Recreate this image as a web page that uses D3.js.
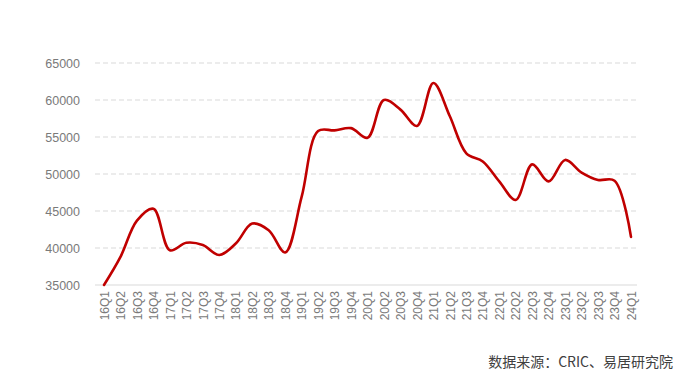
<!DOCTYPE html>
<html><head><meta charset="utf-8">
<script src="https://cdn.jsdelivr.net/npm/d3@7"></script>
<style>body{margin:0;background:#fff}svg{display:block}</style>
</head><body><div id="c"></div>
<script>
const categories = ["16Q1","16Q2","16Q3","16Q4","17Q1","17Q2","17Q3","17Q4","18Q1","18Q2","18Q3","18Q4","19Q1","19Q2","19Q3","19Q4","20Q1","20Q2","20Q3","20Q4","21Q1","21Q2","21Q3","21Q4","22Q1","22Q2","22Q3","22Q4","23Q1","23Q2","23Q3","23Q4","24Q1"];
const values = [35000,38800,43700,45300,39700,40700,40400,39050,40600,43300,42400,39400,46900,55800,55900,56200,54900,60000,58700,56500,62300,57800,52800,51700,49000,46500,51300,49000,51900,50200,49200,49100,41500];
const yTicks = [35000,40000,45000,50000,55000,60000,65000];
const source = "数据来源：CRIC、易居研究院";

const W=700,H=383;
const svg=d3.select("#c").append("svg").attr("width",W).attr("height",H);
const x=d3.scalePoint().domain(categories).range([104,631]);
const y=d3.scaleLinear().domain([35000,65000]).range([285,63]);

const grid=svg.append("g");
grid.selectAll("line").data(yTicks.slice(1)).join("line")
  .attr("x1",95).attr("x2",637).attr("y1",d=>y(d)).attr("y2",d=>y(d))
  .attr("stroke","#d9d9d9").attr("stroke-width",1).attr("stroke-dasharray","5,3");
svg.append("line").attr("x1",95).attr("x2",637).attr("y1",y(35000)).attr("y2",y(35000))
  .attr("stroke","#d9d9d9").attr("stroke-width",1.2);

const ya=svg.append("g").attr("transform","translate(86,0)")
  .call(d3.axisLeft(y).tickValues(yTicks).tickSize(0).tickPadding(6).tickFormat(d3.format("d")));
ya.select(".domain").remove();
ya.selectAll("text").attr("fill","#7a7a7a").style("font-family","Liberation Sans, Arial, sans-serif").style("font-size","12.5px");

const xa=svg.append("g").attr("transform","translate(0,"+y(35000)+")")
  .call(d3.axisBottom(x).tickSize(0).tickPadding(0));
xa.select(".domain").remove();
xa.selectAll("text").attr("fill","#7a7a7a").style("font-family","Liberation Sans, Arial, sans-serif").style("font-size","12px")
  .attr("text-anchor","end").attr("dy","0.35em").attr("transform","translate(0,6) rotate(-90)").attr("x",0).attr("y",0);

const line=d3.line().x((d,i)=>x(categories[i])).y(d=>y(d)).curve(d3.curveCatmullRom.alpha(0.5));
svg.append("path").datum(values).attr("d",line).attr("fill","none")
  .attr("stroke","#C00000").attr("stroke-width",2.6).attr("stroke-linejoin","round").attr("stroke-linecap","round");

svg.append("text").attr("x",673).attr("y",367).attr("text-anchor","end")
  .attr("fill","#404040").style("font-family","Noto Sans CJK SC").style("font-size","14px").text(source);
</script></body></html>
